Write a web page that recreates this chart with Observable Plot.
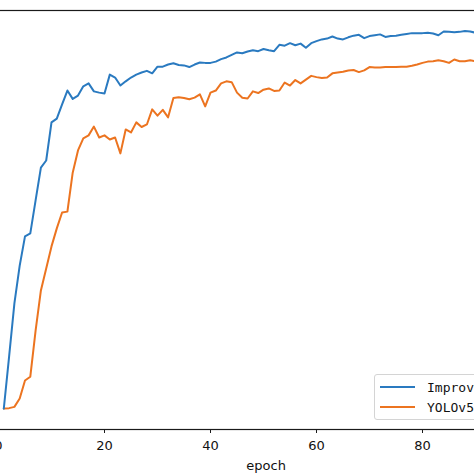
<!DOCTYPE html>
<html>
<head>
<meta charset="utf-8">
<script src="https://cdn.jsdelivr.net/npm/d3@7"></script>
<script src="https://cdn.jsdelivr.net/npm/@observablehq/plot@0.6"></script>
<style>
  html, body { margin: 0; padding: 0; background: #fff; }
  #wrap { position: relative; width: 474px; height: 474px; overflow: hidden; background: #fff; }
  #chart { position: absolute; left: -40px; top: 0; width: 620px; }
  #chart svg { max-width: none !important; width: 620px; height: 474px; }
  #legend {
    position: absolute; left: 374px; top: 374px; width: 150px; height: 44px;
    border: 1px solid #d4d4d4; border-radius: 3px; background: rgba(255,255,255,0.8);
    font-family: "DejaVu Sans Mono", monospace; font-size: 13px; color: #111;
    white-space: nowrap;
  }
  .row { position: absolute; left: 5px; height: 16px; display: flex; align-items: center; white-space: nowrap; }
  .sw { width: 35px; height: 0; border-top: 2.2px solid; margin-right: 12px; flex: none; }
</style>
</head>
<body>
<div id="wrap">
  <div id="chart"></div>
  <div id="legend"></div>
</div>
<script>
const seriesNames = ["Improved YOLOv5", "YOLOv5"];
const seriesColors = ["#2a7ac0", "#ec7420"];
const xTicks = [0, 20, 40, 60, 80];
const xLabel = "epoch";

// mAP per epoch (epoch 1..90)
const improved = [
  0.050, 0.174, 0.301, 0.391, 0.461, 0.468, 0.547, 0.625, 0.642, 0.733,
  0.742, 0.776, 0.809, 0.789, 0.797, 0.819, 0.826, 0.807, 0.804, 0.802,
  0.847, 0.840, 0.821, 0.831, 0.840, 0.847, 0.852, 0.856, 0.850, 0.866,
  0.866, 0.871, 0.874, 0.870, 0.869, 0.865, 0.871, 0.876, 0.875, 0.875,
  0.878, 0.884, 0.888, 0.894, 0.900, 0.898, 0.902, 0.905, 0.903, 0.908,
  0.905, 0.903, 0.918, 0.916, 0.922, 0.917, 0.921, 0.911, 0.922, 0.927,
  0.931, 0.933, 0.938, 0.933, 0.931, 0.936, 0.940, 0.942, 0.934, 0.939,
  0.941, 0.943, 0.937, 0.939, 0.940, 0.942, 0.944, 0.946, 0.946, 0.946,
  0.947, 0.945, 0.941, 0.950, 0.949, 0.948, 0.949, 0.951, 0.950, 0.947
];
const baseline = [
  0.050, 0.051, 0.054, 0.074, 0.117, 0.126, 0.236, 0.332, 0.384, 0.437,
  0.480, 0.518, 0.520, 0.613, 0.666, 0.695, 0.702, 0.723, 0.697, 0.702,
  0.692, 0.697, 0.659, 0.716, 0.709, 0.733, 0.722, 0.728, 0.764, 0.749,
  0.763, 0.745, 0.791, 0.793, 0.791, 0.788, 0.792, 0.800, 0.771, 0.804,
  0.809, 0.826, 0.831, 0.829, 0.804, 0.792, 0.790, 0.807, 0.803, 0.811,
  0.814, 0.808, 0.809, 0.828, 0.821, 0.834, 0.826, 0.835, 0.844, 0.841,
  0.839, 0.840, 0.850, 0.852, 0.854, 0.857, 0.858, 0.853, 0.857, 0.865,
  0.864, 0.864, 0.865, 0.865, 0.865, 0.866, 0.866, 0.868, 0.871, 0.875,
  0.878, 0.879, 0.881, 0.879, 0.875, 0.883, 0.879, 0.879, 0.881, 0.879
];

const toRows = (arr, name) => arr.map((v, i) => ({epoch: i + 1, value: v, series: name}));
const rowsA = toRows(improved, seriesNames[0]);
const rowsB = toRows(baseline, seriesNames[1]);

const chart = Plot.plot({
  width: 620,
  height: 474,
  marginLeft: 16.8,
  marginRight: 25.5,
  marginTop: 10,
  marginBottom: 45,
  style: {fontFamily: "DejaVu Sans", background: "transparent", overflow: "visible", maxWidth: "none"},
  x: {domain: [-4, 105]},
  y: {domain: [0, 1], axis: null},
  marks: [
    Plot.frame({stroke: "#1a1a1a", strokeWidth: 1.2}),
    Plot.axisX({ticks: xTicks, tickSize: 4, tickPadding: 7, fontSize: 13, label: null, stroke: "#1a1a1a", fill: "#111", tickFormat: d => String(d)}),
    Plot.text([xLabel], {frameAnchor: "bottom", dy: 36, fontSize: 13, fill: "#111", lineAnchor: "middle"}),
    Plot.line(rowsB, {x: "epoch", y: "value", stroke: seriesColors[1], strokeWidth: 2}),
    Plot.line(rowsA, {x: "epoch", y: "value", stroke: seriesColors[0], strokeWidth: 2})
  ]
});
chart.style.maxWidth = "none";
document.getElementById("chart").appendChild(chart);

const legend = document.getElementById("legend");
seriesNames.forEach((name, i) => {
  const row = document.createElement("div");
  row.className = "row";
  row.style.top = (4 + i * 20) + "px";
  const sw = document.createElement("div");
  sw.className = "sw";
  sw.style.borderTopColor = seriesColors[i];
  const t = document.createElement("span");
  t.textContent = name;
  row.appendChild(sw);
  row.appendChild(t);
  legend.appendChild(row);
});
</script>
</body>
</html>
